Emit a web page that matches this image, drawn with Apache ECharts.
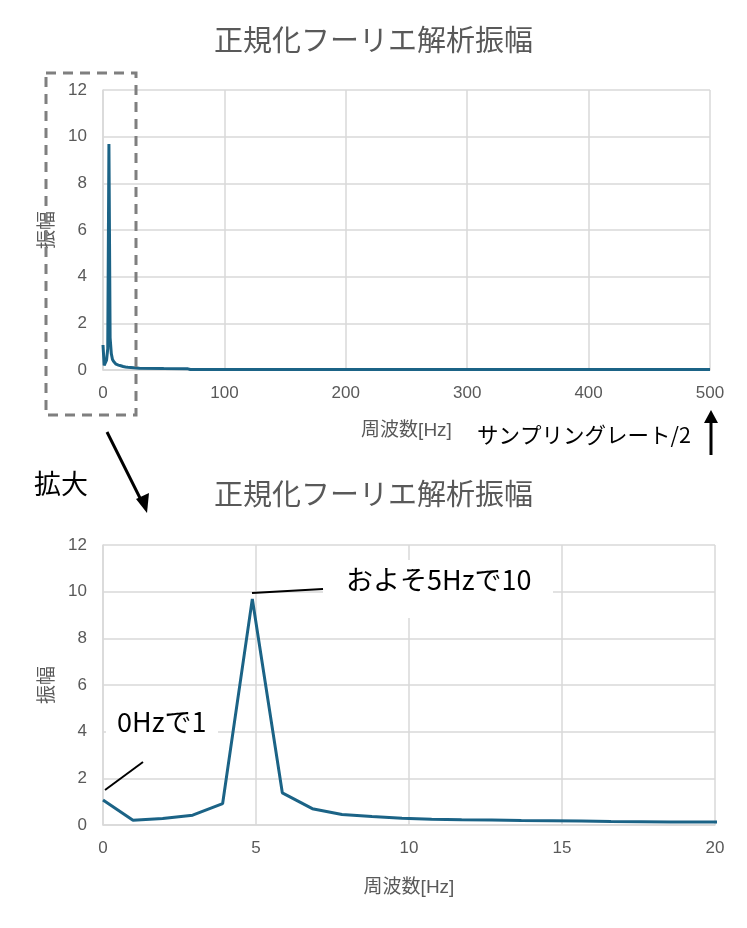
<!DOCTYPE html>
<html><head><meta charset="utf-8">
<script src="https://cdn.jsdelivr.net/npm/echarts@6/dist/echarts.min.js"></script>
<style>html,body{margin:0;padding:0;background:#fff}#c{width:747px;height:928px}</style>
</head><body><div id="c"></div>
<script>
// FFT bin frequencies [Hz] (low range) and normalized amplitudes
var freqLow = [0, 0.98, 1.95, 2.93, 3.91, 4.88, 5.86, 6.84, 7.81, 8.79, 9.77, 10.74, 11.72, 12.70, 13.67, 14.65, 15.63, 16.60, 17.58, 18.55, 19.53, 20.51, 21.48];
var ampLow  = [1.07, 0.20, 0.28, 0.42, 0.92, 9.69, 1.38, 0.70, 0.45, 0.36, 0.29, 0.25, 0.22, 0.21, 0.19, 0.18, 0.17, 0.15, 0.14, 0.13, 0.13, 0.12, 0.12];
// high-frequency tail
var freqTail = [30, 50, 70, 72, 100, 200, 300, 400, 500];
var ampTail  = [0.08, 0.06, 0.05, 0.02, 0.02, 0.02, 0.02, 0.02, 0.02];
var titleText = '正規化フーリエ解析振幅';
var xName = '周波数[Hz]';
var yName = '振幅';

function pairs(xs, ys){ return xs.map(function(x,i){ return [x, ys[i]]; }); }
var fullData = pairs(freqLow, ampLow).concat(pairs(freqTail, ampTail));
var zoomData = pairs(freqLow, ampLow);

var GRAY = '#595959', GRID = '#d9d9d9', LINE = '#1b6386';
var FONT = "'Liberation Sans', 'Noto Sans CJK JP', sans-serif";
var JFONT = "'Noto Sans CJK JP', sans-serif";

function xAxisCfg(idx, max, interval, gap){
  return {type:'value', gridIndex:idx, min:0, max:max, interval:interval,
    name:xName, nameLocation:'middle', nameGap:gap,
    nameTextStyle:{color:GRAY, fontSize:19, fontFamily:FONT},
    axisLine:{show:true, onZero:false, lineStyle:{color:GRID, width:1.5}},
    axisTick:{show:false},
    axisLabel:{color:GRAY, fontSize:17, margin:15, fontFamily:FONT},
    splitLine:{show:true, lineStyle:{color:GRID, width:1.5}}};
}
function yAxisCfg(idx){
  return {type:'value', gridIndex:idx, min:0, max:12, interval:2,
    name:yName, nameLocation:'middle', nameGap:48, nameRotate:90,
    nameTextStyle:{color:GRAY, fontSize:19, fontFamily:JFONT},
    axisLine:{show:true, lineStyle:{color:GRID, width:1.5}},
    axisTick:{show:false},
    axisLabel:{color:GRAY, fontSize:17, margin:16, fontFamily:FONT},
    splitLine:{show:true, lineStyle:{color:GRID, width:1.5}}};
}

var chart = echarts.init(document.getElementById('c'), null, {renderer:'canvas'});
chart.setOption({
  animation:false,
  backgroundColor:'#fff',
  title:[
    {text:titleText, left:'center', top:20, textStyle:{color:GRAY, fontSize:29, fontWeight:'normal', fontFamily:JFONT}},
    {text:titleText, left:'center', top:474, textStyle:{color:GRAY, fontSize:29, fontWeight:'normal', fontFamily:JFONT}}
  ],
  grid:[
    {left:103, right:37, top:90, height:280},
    {left:103, right:32, top:545, height:280}
  ],
  xAxis:[xAxisCfg(0, 500, 100, 51), xAxisCfg(1, 20, 5, 53)],
  yAxis:[yAxisCfg(0), yAxisCfg(1)],
  series:[
    {type:'line', xAxisIndex:0, yAxisIndex:0, data:fullData, showSymbol:false, clip:true,
     lineStyle:{color:LINE, width:3}, z:5},
    {type:'line', xAxisIndex:1, yAxisIndex:1, data:zoomData, showSymbol:false, clip:true,
     lineStyle:{color:LINE, width:3}, z:5}
  ],
  graphic:[
    // dashed zoom-region frame
    {type:'rect', z:100, shape:{x:46, y:73, width:90, height:342},
     style:{fill:null, stroke:'#7f7f7f', lineWidth:3, lineDash:[10,7]}},
    // diagonal arrow
    {type:'line', z:100, shape:{x1:107, y1:432, x2:142, y2:502}, style:{stroke:'#000', lineWidth:3}},
    {type:'polygon', z:100, shape:{points:[[147,513],[136,499],[149,493]]}, style:{fill:'#000'}},
    {type:'text', z:100, left:34, top:470, style:{text:'拡大', fill:'#000', font:"27px 'Noto Sans CJK JP', sans-serif"}},
    // sampling rate / 2 note
    {type:'text', z:100, left:477, top:424, style:{text:'サンプリングレート/2', fill:'#000', font:"21.5px 'Noto Sans CJK JP', sans-serif"}},
    {type:'line', z:100, shape:{x1:711, y1:455, x2:711, y2:420}, style:{stroke:'#000', lineWidth:3}},
    {type:'polygon', z:100, shape:{points:[[711,410],[704,423],[718,423]]}, style:{fill:'#000'}},
    // annotation boxes on zoom chart
    {type:'rect', z:100, shape:{x:323, y:560, width:230, height:58}, style:{fill:'#fff'}},
    {type:'text', z:101, left:346, top:566, style:{text:'およそ5Hzで10', fill:'#000', font:"27px 'Noto Sans CJK JP', sans-serif"}},
    {type:'line', z:101, shape:{x1:252, y1:593, x2:323, y2:589}, style:{stroke:'#000', lineWidth:2}},
    {type:'rect', z:100, shape:{x:106, y:705, width:112, height:40}, style:{fill:'#fff'}},
    {type:'text', z:101, left:117, top:708, style:{text:'0Hzで1', fill:'#000', font:"27px 'Noto Sans CJK JP', sans-serif"}},
    {type:'line', z:101, shape:{x1:105, y1:790, x2:143, y2:762}, style:{stroke:'#000', lineWidth:2}}
  ]
});
</script></body></html>
